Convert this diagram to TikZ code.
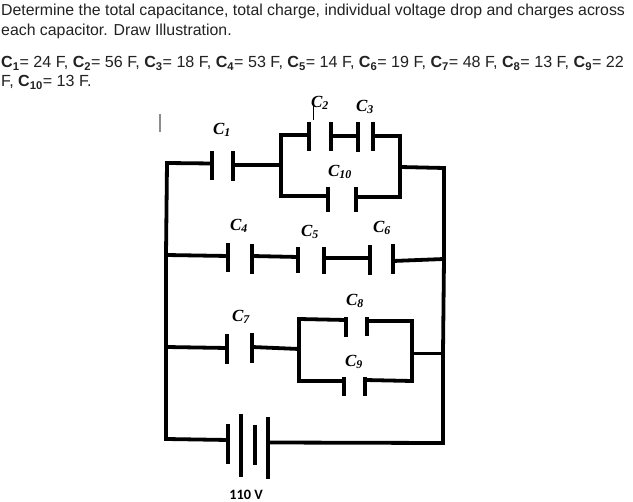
\documentclass[tikz,border=0pt]{standalone}
\usepackage{fontspec}
\setmainfont{Liberation Sans}
\newfontfamily\calib{Carlito}
\newfontfamily\labf{Liberation Serif}
\newcommand{\Cs}[1]{\textbf{C\textsubscript{#1}}}
\newcommand{\capl}[1]{C\textsubscript{#1}}
\definecolor{txt}{HTML}{222222}
\tikzset{
  wire/.style={line width=3.8pt,black,line join=miter,line cap=rect},
  plate/.style={line width=4.2pt,black,line cap=butt},
  stray/.style={line width=0.7pt},
  para/.style={anchor=base west,inner sep=0pt,text=txt,font=\fontsize{15.85}{17}\selectfont},
  parb/.style={para,font=\fontsize{16.08}{17}\selectfont},
  lab/.style={inner sep=0pt,font=\labf\bfseries\itshape\fontsize{17}{19}\selectfont},
  volt/.style={inner sep=0pt,font=\calib\bfseries\fontsize{14.3}{16}\selectfont},
}
\newcommand{\plt}[4]{% name, x, y top, y bottom
  \coordinate (#1t) at (#2,#3);\coordinate (#1b) at (#2,#4);
  \draw[plate] (#1t) -- (#1b);}
\begin{document}
\begin{tikzpicture}[x=1pt,y=-1pt]
\useasboundingbox (0,0) rectangle (633,502);
\fill[white] (0,0) rectangle (633,502);
% text
\node[para] (l1) at (1,15.5) {Determine the total capacitance, total charge, individual voltage drop and charges across};
\node[para] (l2) at (1,35.5) {each capacitor. Draw Illustration.};
\node[parb] (l3) at (1,67.5) {\Cs{1}= 24 F, \Cs{2}= 56 F, \Cs{3}= 18 F, \Cs{4}= 53 F, \Cs{5}= 14 F, \Cs{6}= 19 F, \Cs{7}= 48 F, \Cs{8}= 13 F, \Cs{9}= 22};
\node[parb] (l4) at (1,87) {F, \Cs{10}= 13 F.};
% plates
\plt{a1}{212}{151}{180}\plt{a2}{233}{151}{181}
\plt{b1}{309}{122}{151}\plt{b2}{331}{122}{151}
\plt{c1}{358}{122}{152}\plt{c2}{373}{122}{151}
\plt{j1}{328}{187}{212}\plt{j2}{356}{187}{212}
\plt{d1}{228}{243}{272}\plt{d2}{252}{244}{274}
\plt{e1}{298}{247}{273}\plt{e2}{324}{247}{274}
\plt{f1}{370}{245}{275}\plt{f2}{393}{244}{274}
\plt{g1}{227}{334}{364}\plt{g2}{252}{333}{363}
\plt{h1}{346}{317}{337}\plt{h2}{367}{317}{336}
\plt{i1}{344}{377}{396}\plt{i2}{365}{377}{396}
\plt{v1}{228}{424}{464}\plt{v2}{241}{414}{477}
\plt{v3}{255}{425}{465}\plt{v4}{268}{417}{479}
% junctions
\coordinate (TL) at (167,163);
\coordinate (ML) at (166,255);
\coordinate (NL) at (166,347);
\coordinate (BL) at (166,439);
\coordinate (TR) at (444,168);
\coordinate (MR) at (444,259);
\coordinate (NR) at (443,353.5);
\coordinate (BR) at (443,443);
\coordinate (P1t) at (281,135);\coordinate (P1m) at (281,165);\coordinate (P1b) at (281,196);
\coordinate (P2t) at (400,136);\coordinate (P2m) at (400,167);\coordinate (P2b) at (400,197);
\coordinate (Q1t) at (299,319);\coordinate (Q1m) at (299,349);\coordinate (Q1b) at (299,381);
\coordinate (Q2t) at (412,321);\coordinate (Q2m) at (412,353.5);\coordinate (Q2b) at (412,381);
% rails
\draw[wire] (a1t |- 0,163.5) -- (TL) -- (ML) -- (NL) -- (BL) -- (v1t |- 0,440);
\draw[wire] (P2m) -- (TR) -- (MR) -- (NR) -- (BR) -- (v4t |- 0,442.5);
% branch 1
\draw[wire] (a2t |- 0,165) -- (P1m);
\draw[wire] (b1t |- 0,135) -- (P1t) -- (P1b) -- (j1t |- 0,196);
\draw[wire] (b2t |- 0,136) -- (c1t |- 0,136);
\draw[wire] (c2t |- 0,136) -- (P2t) -- (P2b) -- (j2t |- 0,197);
% branch 2
\draw[wire] (ML) -- (d1t |- 0,256);
\draw[wire] (d2t |- 0,256) -- (e1t |- 0,257);
\draw[wire] (e2t |- 0,258) -- (f1t |- 0,258);
\draw[wire] (f2t |- 0,261) -- (MR);
% branch 3
\draw[wire] (NL) -- (g1t |- 0,348);
\draw[wire] (g2t |- 0,347) -- (Q1m);
\draw[wire] (h1t |- 0,320) -- (Q1t) -- (Q1b) -- (i1t |- 0,381);
\draw[wire] (h2t |- 0,321) -- (Q2t) -- (Q2b) -- (i2t |- 0,380);
\draw[wire] (Q2m) -- (NR);
% stray marks
\coordinate (s1) at (313,98);\coordinate (s2) at (313,120);
\draw[stray,black] (s1) -- (s2);
\coordinate (s3) at (160,114);\coordinate (s4) at (160,132);
\draw[line width=1.2pt,black!45] (s3) -- (s4);
% labels
\node[lab] (lbl1) at (222,130) {\capl{1}};
\node[lab] (lbl2) at (320,103) {\capl{2}};
\node[lab] (lbl3) at (365,107) {\capl{3}};
\node[lab] (lbl10) at (340,172) {\capl{10}};
\node[lab] (lbl4) at (239,226) {\capl{4}};
\node[lab] (lbl5) at (310,232) {\capl{5}};
\node[lab] (lbl6) at (382,228) {\capl{6}};
\node[lab] (lbl7) at (241,317) {\capl{7}};
\node[lab] (lbl8) at (355,301) {\capl{8}};
\node[lab] (lbl9) at (354,362) {\capl{9}};
\node[volt] (vv) at (246,495) {110 V};
\end{tikzpicture}
\end{document}
